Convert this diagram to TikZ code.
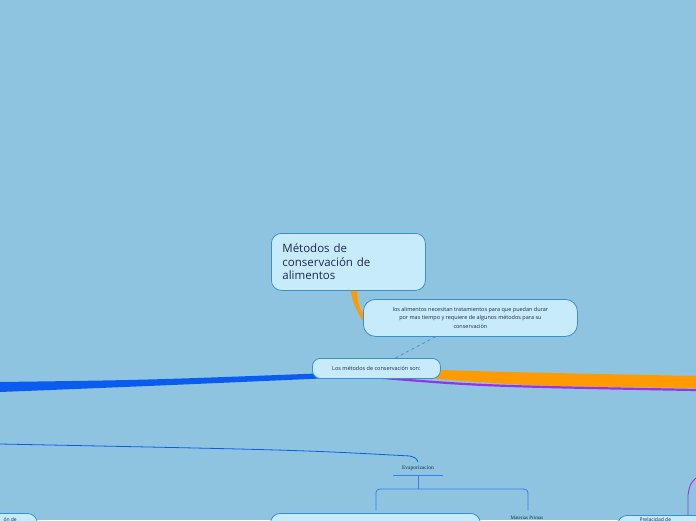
\documentclass[tikz,border=0pt]{standalone}
\usepackage{fontspec}
\usetikzlibrary{calc}
\setmainfont{Open Sans}
\newfontfamily\serifx{Liberation Serif}
\definecolor{bg}{HTML}{8EC4E0}
\definecolor{nodef}{HTML}{C8EBFB}
\definecolor{nodeb}{HTML}{3A8FD0}
\definecolor{txt}{HTML}{1B2A4A}
\definecolor{bblue}{HTML}{0A5CF0}
\definecolor{orng}{HTML}{FF9A00}
\definecolor{purp}{HTML}{9B30E8}
\begin{document}
\begin{tikzpicture}[x=1pt,y=-1pt,
  box/.style={draw=nodeb,fill=nodef,rounded corners=10pt,line width=0.8pt,text=txt}]
\fill[bg] (0,0) rectangle (696,520);
\useasboundingbox (0,0) rectangle (696,520);
% branches
\fill[orng] (350,290) .. controls (354,305) .. (362,320) -- (364,316) .. controls (358,304) .. (357,290) -- cycle;
\fill[orng] (380,368) .. controls (500,372) .. (696,376) -- (696,388) .. controls (520,386) .. (380,374) -- cycle;
\draw[purp,line width=2.2pt] (372,377) .. controls (480,386) .. (696,390);
\fill[bblue] (0,382) .. controls (150,380) .. (355,372) -- (355,377) .. controls (150,386) .. (0,392) -- cycle;
\node[box,minimum width=154pt,minimum height=57pt,text width=132pt,align=left,font=\fontsize{11.5}{13.5}\selectfont,anchor=north west] (main) at (271,233) {Métodos de\\conservación de\\alimentos};
\node[box,minimum width=214pt,minimum height=37pt,align=center,font=\fontsize{5.5}{8.5}\selectfont,rounded corners=12pt,anchor=north west] (note) at (363,299) {los alimentos necesitan tratamientos para que puedan durar\\por mas tiempo y requiere de algunos métodos para su\\conservación};
\node[box,minimum width=128pt,minimum height=20pt,font=\fontsize{5.5}{7}\selectfont,rounded corners=8pt,anchor=north west] (los) at (312,358) {Los métodos de conservación son:};
\draw[nodeb,dashed,line width=0.7pt] ($(note.south)+(-35,0)$) -- ($(los.north)+(19,0)$);
% evaporizacion
\draw[bblue,line width=0.8pt] (0,444) .. controls (300,450) .. (410,456) .. controls (416,458) .. (418,462);
\node[font=\serifx\fontsize{5.5}{7}\selectfont,text=txt] (evap) at (418,468) {Evaporizacion};
\draw[bblue!80,line width=1pt] (393,475) -- (443,475);
\coordinate (ev) at (418,475);
\draw[bblue!80,line width=0.8pt] (ev) -- (418,489);
\draw[bblue!80,line width=0.8pt] (376,510) -- (376,496) .. controls (376,489) .. (385,489) -- (518,489) .. controls (528,489) .. (528,497) -- (528,510);
\node[box,minimum width=210pt,minimum height=30pt,anchor=north west,rounded corners=10pt] (mid) at (270,513) {};
\node[font=\serifx\fontsize{5}{6}\selectfont,text=txt] (mp) at (527,518) {Materias Primas};
\node[box,minimum width=60pt,minimum height=30pt,anchor=north west] (lft) at (-23,513) {};
\node[font=\fontsize{5}{6}\selectfont,text=txt,anchor=west] at (0,520) {ón de};
\node[box,minimum width=100pt,minimum height=30pt,anchor=north west] (rgt) at (617,515) {};
\node[font=\fontsize{5}{6}\selectfont,text=txt,anchor=west] at (636,520) {Prelacidad de};
\draw[purp,line width=0.9pt] (696,478) .. controls (690,484) .. (688,495) -- (688,515);
\end{tikzpicture}
\end{document}
